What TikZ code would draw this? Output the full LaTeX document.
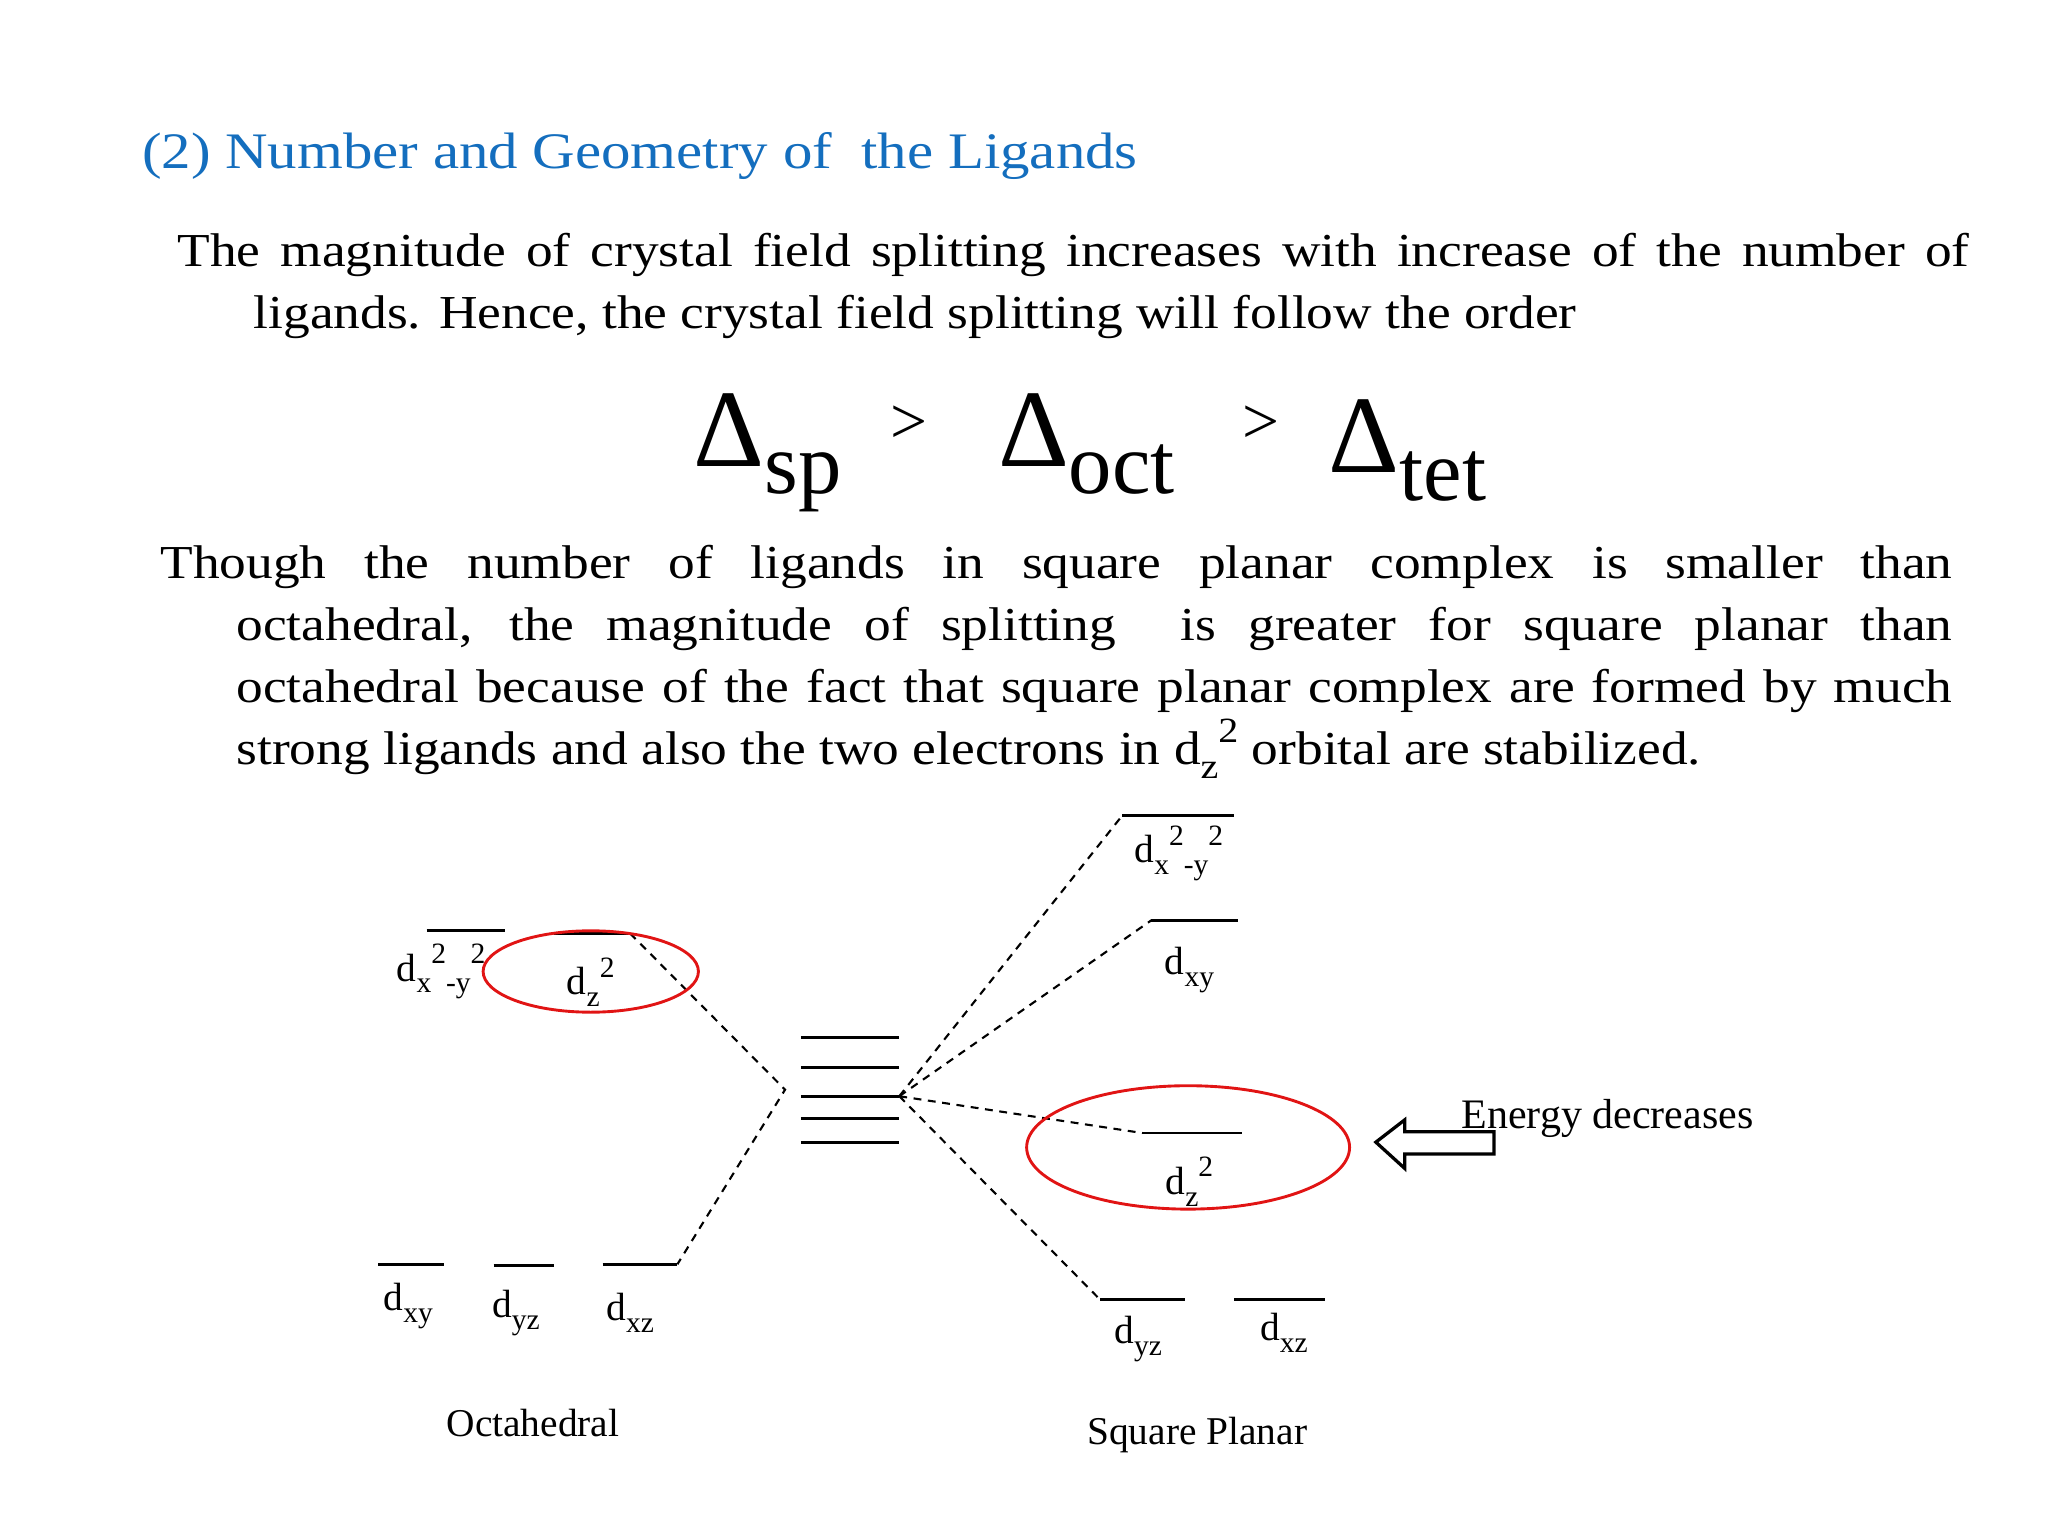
\documentclass[tikz,border=0pt]{standalone}
\usepackage{fontspec}
\setmainfont{Liberation Serif}
\newfontfamily\bodyfont[FakeStretch=1.13]{Liberation Serif}
\newfontfamily\ttlfont[FakeStretch=1.15]{Liberation Serif}
\usetikzlibrary{shapes.arrows,shapes.geometric}
\definecolor{ttl}{RGB}{20,110,190}
\definecolor{rd}{RGB}{225,20,20}
\newcommand{\lo}[1]{\raisebox{-0.3em}{\scalebox{0.75}{#1}}}
\newcommand{\hi}[1]{\raisebox{0.45em}{\scalebox{0.75}{#1}}}
\begin{document}
\begin{tikzpicture}[x=1pt,y=-1pt,
  body/.style={anchor=base west,inner sep=0,font=\bodyfont\fontsize{36}{40}\selectfont},
  big/.style={anchor=base west,inner sep=0,font=\fontsize{84}{90}\selectfont},
  gt/.style={anchor=base west,inner sep=0,font=\fontsize{50}{54}\selectfont},
  lab/.style={inner sep=0,font=\fontsize{30}{34}\selectfont},
  lvl/.style={line width=2.2pt},
  dsh/.style={dashed,line width=1.6pt,dash pattern=on 6pt off 5pt},
  ell/.style={draw=rd,line width=2.2pt}]
\useasboundingbox (0,0) rectangle (1560,1170);
\node[body,text=ttl,font=\ttlfont\fontsize{39}{44}\selectfont] (title) at (108,128) {(2) Number and Geometry of \ the Ligands};
\node[body] (l1) at (135,203) {\makebox[1365pt][s]{The magnitude of crystal field splitting increases with increase of the number of}};
\node[body] (l2) at (193,250) {ligands. Hence, the crystal field splitting will follow the order};
\node[big] (m1) at (528,355) {Δ\raisebox{-0.25em}{\fontsize{66}{70}\selectfont sp}};
\node[gt] (g1) at (678,338) {>};
\node[big] (m2) at (760,355) {Δ\raisebox{-0.25em}{\fontsize{66}{70}\selectfont oct}};
\node[gt] (g2) at (946,338) {>};
\node[big] (m3) at (1012,360) {Δ\raisebox{-0.25em}{\fontsize{66}{70}\selectfont tet}};
\node[body] (l3) at (122,441) {\makebox[1365pt][s]{Though the number of ligands in square planar complex is smaller than}};
\node[body] (l4) at (180,488) {\makebox[1307pt][s]{octahedral, the magnitude of splitting \ is greater for square planar than}};
\node[body] (l5) at (180,535) {\makebox[1307pt][s]{octahedral because of the fact that square planar complex are formed by much}};
\node[body] (l6) at (180,582) {strong ligands and also the two electrons in d\lo{z}\hi{2} orbital are stabilized.};
% octahedral
\coordinate (oa1) at (325,709); \coordinate (oa2) at (385,709);
\coordinate (ob1) at (422,711); \coordinate (ob2) at (480,711);
\coordinate (oc1) at (288,963); \coordinate (oc2) at (338,963);
\coordinate (od1) at (376,964); \coordinate (od2) at (422,964);
\coordinate (oe1) at (459,963); \coordinate (oe2) at (516,963);
\coordinate (ov) at (598,830);
\draw[lvl] (oa1)--(oa2); \draw[lvl] (ob1)--(ob2);
\draw[lvl] (oc1)--(oc2); \draw[lvl] (od1)--(od2); \draw[lvl] (oe1)--(oe2);
\draw[dsh] (ob2)--(ov)--(oe2);
\node[lab] (ta) at (336,740) {d\lo{x}\hi{2}\lo{-y}\hi{2}};
\node[lab] (tb) at (450,748) {d\lo{z}\hi{2}};
\node[ell,ellipse,minimum width=164pt,minimum height=62pt,inner sep=0] (e1) at (450,740) {};
\node[lab] (tc) at (311,995) {d\lo{xy}};
\node[lab] (td) at (393,1000) {d\lo{yz}};
\node[lab] (te) at (480,1000) {d\lo{xz}};
\node[lab] (oct) at (406,1084) {Octahedral};
% free ion
\foreach \y/\n in {790/a,813/b,835/c,852/d,870/e} {\draw[lvl] (610,\y) coordinate (f\n1) -- (685,\y) coordinate (f\n2);}
% square planar
\coordinate (sa1) at (855,621); \coordinate (sa2) at (940,621);
\coordinate (sb1) at (877,701); \coordinate (sb2) at (943,701);
\coordinate (sc1) at (870,863); \coordinate (sc2) at (946,863);
\coordinate (sd1) at (838,990); \coordinate (sd2) at (903,990);
\coordinate (se1) at (940,990); \coordinate (se2) at (1009,990);
\foreach \n in {a,b,c,d,e} {\draw[lvl] (s\n1)--(s\n2);}
\foreach \n in {a,b,c,d} {\draw[dsh] (fc2)--(s\n1);}
\node[lab] (sa) at (898,650) {d\lo{x}\hi{2}\lo{-y}\hi{2}};
\node[lab] (sb) at (906,739) {d\lo{xy}};
\node[lab] (sc) at (906,900) {d\lo{z}\hi{2}};
\node[lab] (sd) at (867,1020) {d\lo{yz}};
\node[lab] (se) at (978,1015) {d\lo{xz}};
\node[ell,ellipse,minimum width=246pt,minimum height=94pt,inner sep=0] (e2) at (905,874) {};
\node[lab] (sq) at (912,1093) {Square Planar};
\coordinate (tip) at (1048,870);
\draw[line width=2.5pt,line join=miter] (tip) -- (1070,853) -- (1070,862) -- (1138,862) -- (1138,879) -- (1070,879) -- (1070,890) -- cycle;
\node[lab,anchor=west,font=\fontsize{32}{36}\selectfont] (en) at (1113,852) {Energy decreases};
\end{tikzpicture}
\end{document}
